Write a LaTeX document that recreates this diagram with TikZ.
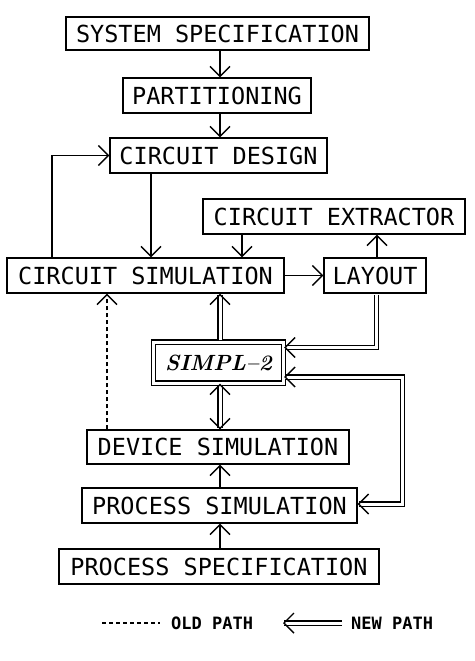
\documentclass[tikz,border=0pt]{standalone}
\usepackage{fontspec}
\newfontfamily\boxfont{DejaVu Sans Mono}
\usetikzlibrary{arrows.meta}

\begin{document}
\begin{tikzpicture}[x=1pt, y=-1pt,
    block/.style={draw, line width=1.4pt, inner sep=0pt, font=\boxfont\fontsize{23.5}{28}\selectfont},
    arr/.style={line width=1.4pt, -{Straight Barb[length=10pt,width=20pt]}},
    newroute/.style={double, double distance=3pt, line width=1.3pt, shorten >=1pt, shorten <=1pt},
    oldroute/.style={line width=1.3pt, dash pattern=on 4pt off 3pt}]
	%%%%% START %%%%%
	\useasboundingbox (0,0) rectangle (474,661);
	
	\node[block, minimum width=303pt, minimum height=33pt] (sysspec) at (217.5, 33.5) {SYSTEM SPECIFICATION};
	\node[block, minimum width=188pt, minimum height=35pt] (partition) at (217, 95.5) {PARTITIONING};
	\node[block, minimum width=217pt, minimum height=35pt] (cktdesign) at (218.5, 155.5) {CIRCUIT DESIGN};
	\node[block, minimum width=262pt, minimum height=35pt] (extractor) at (334, 216.5) {CIRCUIT EXTRACTOR};
	\node[block, minimum width=277pt, minimum height=35pt] (cktsim) at (145.5, 275.5) {CIRCUIT SIMULATION};
	\node[block, minimum width=102pt, minimum height=35pt] (layout) at (375, 275.5) {LAYOUT};
	\node[block, double, double distance=3pt, line width=1.2pt, minimum width=130pt, minimum height=41pt,
	      font=\bfseries\itshape\fontsize{22}{26}\selectfont] (simpl) at (218.5, 362.5) {SIMPL--2};
	\node[block, minimum width=262pt, minimum height=34pt] (devsim) at (218, 447) {DEVICE SIMULATION};
	\node[block, minimum width=275pt, minimum height=35pt] (procsim) at (219.5, 505.5) {PROCESS SIMULATION};
	\node[block, minimum width=320pt, minimum height=35pt] (procspec) at (219, 566.5) {PROCESS SPECIFICATION};
	
	\draw[arr] (sysspec.south -| 220,0) -- (partition.north -| 220,0);
	\draw[arr] (partition.south -| 220,0) -- (cktdesign.north -| 220,0);
	\draw[arr] (cktdesign.south -| 151,0) -- (cktsim.north -| 151,0);
	\draw[arr] (cktsim.north -| 52,0) |- (cktdesign.west);
	\draw[arr] (extractor.south -| 242,0) -- (cktsim.north -| 242,0);
	\draw[arr] (layout.north -| 377,0) -- (extractor.south -| 377,0);
	\draw[arr] (cktsim.east) -- (layout.west);
	\draw[arr] (procspec.north -| 220,0) -- (procsim.south -| 220,0);
	\draw[arr] (procsim.north -| 220,0) -- (devsim.south -| 220,0);
	\draw[arr, oldroute] (devsim.north -| 107,0) -- (cktsim.south -| 107,0);
	
	% new paths: double line, then the tip
	\draw[newroute] (simpl.north -| 220,0) -- (cktsim.south -| 220,0);
	\draw[arr] ([yshift=-1pt]cktsim.south -| 220,0) -- (cktsim.south -| 220,0);
	\draw[newroute] (simpl.south -| 220,0) -- (devsim.north -| 220,0);
	\draw[arr] ([yshift=1pt]devsim.north -| 220,0) -- (devsim.north -| 220,0);
	\draw[arr] ([yshift=-1pt]simpl.south -| 220,0) -- (simpl.south -| 220,0);
	\draw[newroute] (layout.south -| 376.5,0) |- (simpl.east |- 0,347.5);
	\draw[arr] ([xshift=1pt]simpl.east |- 0,347.5) -- (simpl.east |- 0,347.5);
	\draw[newroute] (simpl.east |- 0,377) -| (402.5,440) |- (procsim.east |- 0,504);
	\draw[arr] ([xshift=1pt]simpl.east |- 0,377) -- (simpl.east |- 0,377);
	\draw[arr] ([xshift=1pt]procsim.east |- 0,504) -- (procsim.east |- 0,504);
	
	% legend
	\coordinate (oldA) at (102, 623);
	\coordinate (oldB) at (160, 623);
	\draw[oldroute] (oldA) -- (oldB);
	\node[anchor=west, inner sep=0pt, font=\boxfont\bfseries\fontsize{17}{20}\selectfont] (oldtxt) at (171, 623) {OLD PATH};
	\coordinate (newA) at (343, 623);
	\coordinate (newB) at (283, 623);
	\draw[newroute] (newA) -- (newB);
	\draw[arr] ([xshift=1pt]newB) -- (newB);
	\node[anchor=west, inner sep=0pt, font=\boxfont\bfseries\fontsize{17}{20}\selectfont] (newtxt) at (351, 623) {NEW PATH};
	%%%%% END %%%%%
\end{tikzpicture}
\end{document}
